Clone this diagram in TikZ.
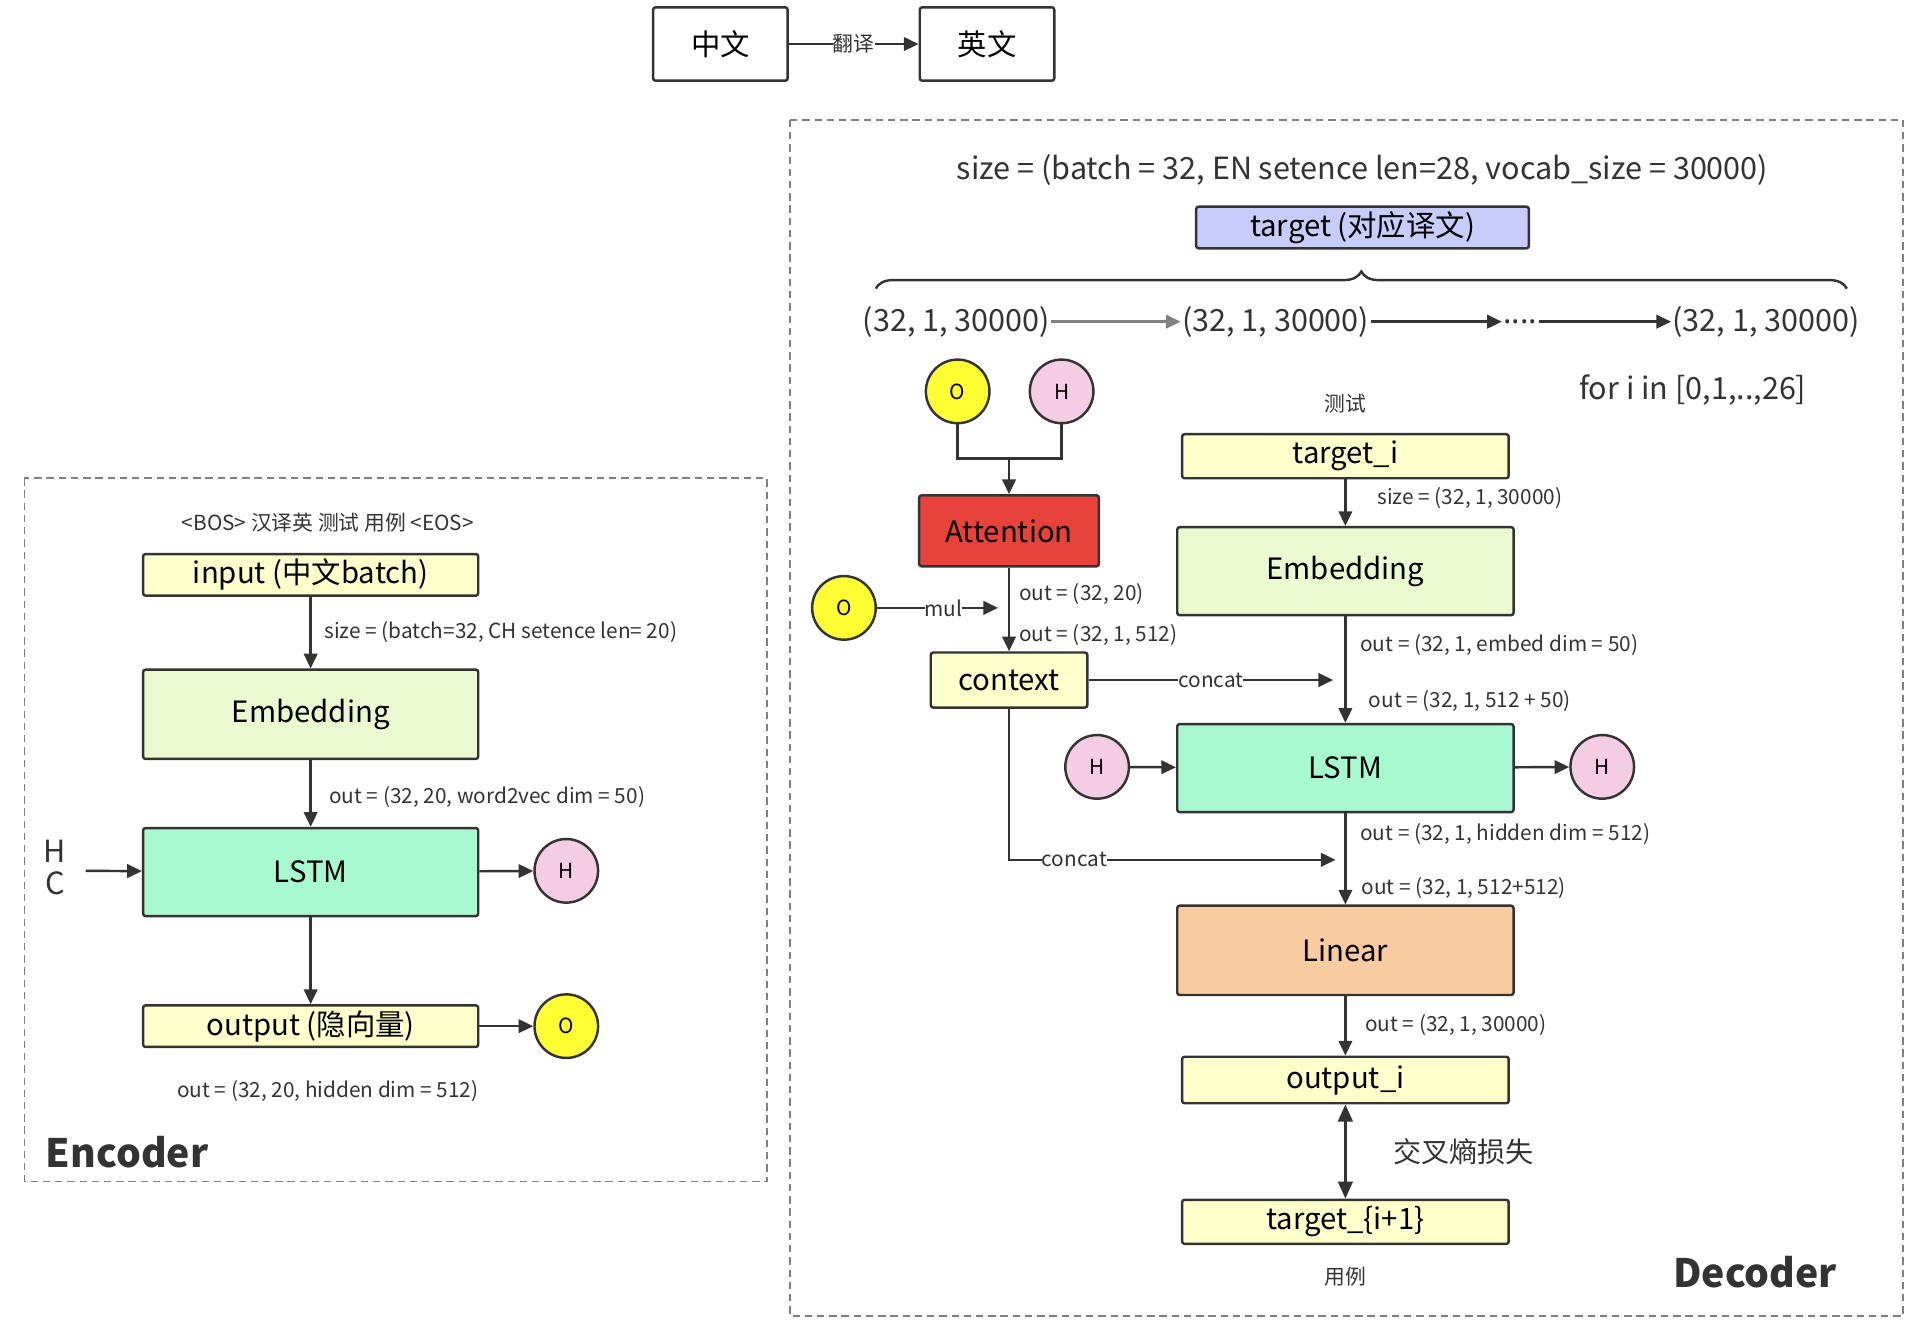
\documentclass[tikz,border=0pt]{standalone}
\usepackage{fontspec}
\setmainfont{Noto Sans CJK SC}
\usetikzlibrary{arrows.meta,decorations.pathreplacing}
\definecolor{ln}{HTML}{333333}
\definecolor{yel}{HTML}{FFFFCC}
\definecolor{grn}{HTML}{EAF9CF}
\definecolor{lstm}{HTML}{A8F8D0}
\definecolor{pk}{HTML}{F4CCE4}
\definecolor{oy}{HTML}{FFFF33}
\definecolor{att}{HTML}{E8433B}
\definecolor{lin}{HTML}{F8CBA0}
\definecolor{tgt}{HTML}{C8CCFA}
\begin{document}
\begin{tikzpicture}[x=1pt,y=-1pt,
  box/.style={draw=ln,line width=2pt,rounded corners=2pt,inner sep=0pt,font=\fontsize{24}{28}\selectfont},
  sml/.style={font=\fontsize{17}{20}\selectfont,inner sep=1pt,text=ln},
  big/.style={font=\fontsize{25}{30}\selectfont,inner sep=1pt,text=ln},
  circ/.style={circle,draw=ln,line width=2pt,minimum size=52pt,inner sep=0pt,font=\fontsize{17}{20}\selectfont},
  arr/.style={draw=ln,line width=2pt,-{Triangle[length=12pt,width=11pt]}},
  wire/.style={draw=ln,line width=2pt},
  dbox/.style={draw=gray,line width=1.5pt,dash pattern=on 6pt off 4pt}]
\useasboundingbox (0,0) rectangle (1560,1081);
% top
\node[box,minimum width=110pt,minimum height=60pt] (zh) at (589,36) {中文};
\node[box,minimum width=110pt,minimum height=60pt] (en) at (807,36) {英文};
\draw[arr] (zh) -- node[fill=white,sml,inner sep=0pt]{翻译} (en);
% encoder
\draw[dbox] (20,391) rectangle (627,966);
\node[sml] (bos) at (268,427) {<BOS> 汉译英 测试 用例 <EOS>};
\node[box,fill=yel,minimum width=274pt,minimum height=34pt] (inp) at (254,470) {input (中文batch)};
\node[box,fill=grn,minimum width=274pt,minimum height=73pt] (emb) at (254,584) {Embedding};
\node[box,fill=lstm,minimum width=274pt,minimum height=72pt] (elstm) at (254,713) {LSTM};
\node[box,fill=yel,minimum width=274pt,minimum height=34pt] (eout) at (254,839) {output (隐向量)};
\node[circ,fill=pk] (eh) at (463,712) {H};
\node[circ,fill=oy] (eo) at (463,839) {O};
\node[big] (hc) at (45,712) {\begin{tabular}{@{}c@{}}H\\[-4pt]C\end{tabular}};
\coordinate (hcr) at (70,712);
\draw[arr] (inp) -- (emb);
\draw[arr] (emb) -- (elstm);
\draw[arr] (elstm) -- (eout);
\draw[arr] (hcr) -- (elstm);
\draw[arr] (elstm) -- (eh);
\draw[arr] (eout) -- (eo);
\node[sml,anchor=west] (l1) at (264,517) {size = (batch=32, CH setence len= 20)};
\node[sml,anchor=west] (l2) at (268,652) {out = (32, 20, word2vec dim = 50)};
\node[sml] (l3) at (268,892) {out = (32, 20, hidden dim = 512)};
\node[font=\fontsize{32}{36}\selectfont\bfseries,anchor=west,text=ln] (encl) at (34,942) {Encoder};
% decoder
\draw[dbox] (646,98) rectangle (1556,1076);
\node[big] (sz) at (1114,139) {size = (batch = 32, EN setence len=28, vocab\_size = 30000)};
\node[box,fill=tgt,minimum width=272pt,minimum height=34pt] (tgt) at (1114,186) {target (对应译文)};
\draw[wire,decorate,decoration={brace,amplitude=14pt}] (716,236) -- (1510,236);
\node[big] (t1) at (782,263) {(32, 1, 30000)};
\node[big] (t2) at (1043,263) {(32, 1, 30000)};
\node[big] (t3) at (1243,263) {....};
\node[big] (t4) at (1444,263) {(32, 1, 30000)};
\draw[arr,draw=gray] (t1) -- (t2);
\draw[arr] (t2) -- (t3);
\draw[arr] (t3) -- (t4);
\node[big,anchor=west] (for) at (1290,319) {for i in [0,1,..,26]};
\node[circ,fill=oy] (ao) at (783,320) {O};
\node[circ,fill=pk] (ah) at (868,320) {H};
\node[box,fill=att,minimum width=147pt,minimum height=58pt] (att) at (825,434) {Attention};
\coordinate (j) at (825,375);
\draw[wire] (ao) |- (j) -| (ah);
\draw[arr] (j) -- (att);
\node[sml] (cs) at (1100,330) {测试};
\node[box,fill=yel,minimum width=267pt,minimum height=36pt] (ti) at (1100,373) {target\_i};
\node[box,fill=grn,minimum width=275pt,minimum height=72pt] (demb) at (1100,467) {Embedding};
\draw[arr] (ti) -- (demb);
\node[sml,anchor=west] at (1125,407) {size = (32, 1, 30000)};
\node[box,fill=yel,minimum width=128pt,minimum height=45pt] (ctx) at (825,556) {context};
\draw[arr] (att) -- (ctx);
\node[sml,anchor=west] at (832,486) {out = (32, 20)};
\node[sml,anchor=west] at (832,519) {out = (32, 1, 512)};
\node[circ,fill=oy] (mo) at (690,497) {O};
\coordinate (mulend) at (816,497);
\draw[arr] (mo) -- node[pos=0.55,fill=white,sml,inner sep=0pt]{mul} (mulend);
\node[box,fill=lstm,minimum width=275pt,minimum height=72pt] (dlstm) at (1100,628) {LSTM};
\draw[arr] (demb) -- (dlstm);
\coordinate (c1) at (1090,556);
\draw[arr] (ctx) -- node[pos=0.5,fill=white,sml,inner sep=0pt]{concat} (c1);
\node[sml,anchor=west] at (1111,527) {out = (32, 1, embed dim = 50)};
\node[sml,anchor=west] at (1118,573) {out = (32, 1, 512 + 50)};
\node[circ,fill=pk] (dh1) at (897,627) {H};
\node[circ,fill=pk] (dh2) at (1310,627) {H};
\draw[arr] (dh1) -- (dlstm);
\draw[arr] (dlstm) -- (dh2);
\node[box,fill=lin,minimum width=275pt,minimum height=73pt] (lin) at (1100,777) {Linear};
\draw[arr] (dlstm) -- (lin);
\coordinate (c2) at (1092,703);
\draw[arr] (ctx.south) |- node[pos=0.6,fill=white,sml,inner sep=0pt]{concat} (c2);
\node[sml,anchor=west] at (1111,682) {out = (32, 1, hidden dim = 512)};
\node[sml,anchor=west] at (1112,726) {out = (32, 1, 512+512)};
\node[box,fill=yel,minimum width=267pt,minimum height=38pt] (oi) at (1100,883) {output\_i};
\draw[arr] (lin) -- (oi);
\node[sml,anchor=west] at (1115,838) {out = (32, 1, 30000)};
\node[box,fill=yel,minimum width=267pt,minimum height=36pt] (ti1) at (1100,999) {target\_\{i+1\}};
\draw[draw=ln,line width=2pt,{Triangle[length=14pt,width=12pt]}-{Triangle[length=14pt,width=12pt]}] (oi) -- (ti1);
\node[big,anchor=west,font=\fontsize{23}{26}\selectfont] at (1138,942) {交叉熵损失};
\node[sml] at (1100,1044) {用例};
\node[font=\fontsize{32}{36}\selectfont\bfseries,text=ln] (decl) at (1435,1040) {Decoder};
\end{tikzpicture}
\end{document}
